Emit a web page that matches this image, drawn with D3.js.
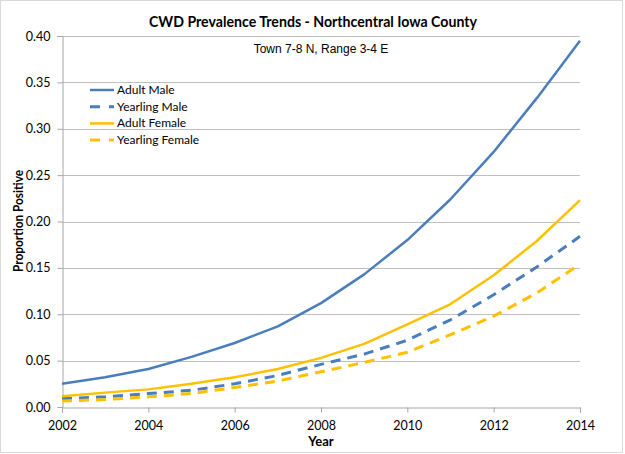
<!DOCTYPE html>
<html>
<head>
<meta charset="utf-8">
<script src="https://cdn.jsdelivr.net/npm/d3@7"></script>
<style>
  body { margin: 0; background: #fff; }
  svg { display: block; }
</style>
</head>
<body>
<svg id="chart"></svg>
<script>
var years = [2002, 2003, 2004, 2005, 2006, 2007, 2008, 2009, 2010, 2011, 2012, 2013, 2014];
var adultMale = [0.025, 0.032, 0.041, 0.054, 0.069, 0.087, 0.112, 0.143, 0.180, 0.224, 0.275, 0.333, 0.395];
var yearlingMale = [0.009, 0.011, 0.0145, 0.018, 0.025, 0.034, 0.046, 0.057, 0.072, 0.094, 0.121, 0.151, 0.184];
var adultFemale = [0.0115, 0.0155, 0.019, 0.025, 0.032, 0.041, 0.053, 0.068, 0.089, 0.111, 0.142, 0.179, 0.223];
var yearlingFemale = [0.0065, 0.008, 0.011, 0.0145, 0.021, 0.028, 0.038, 0.048, 0.059, 0.078, 0.098, 0.123, 0.154];
var seriesNames = ["Adult Male", "Yearling Male", "Adult Female", "Yearling Female"];
var yTicks = [0, 0.05, 0.10, 0.15, 0.20, 0.25, 0.30, 0.35, 0.40];
var xTicks = [2002, 2004, 2006, 2008, 2010, 2012, 2014];

var width = 625, height = 454;
var margin = {left: 62, right: 45, top: 36, bottom: 47};
var blue = "#4A7EBB", gold = "#FFC000";
var font = "Lato, 'Open Sans', sans-serif";

var series = [
  {name: seriesNames[0], values: adultMale, color: blue, dash: null, w: 2.5},
  {name: seriesNames[1], values: yearlingMale, color: blue, dash: "10,7", w: 3},
  {name: seriesNames[2], values: adultFemale, color: gold, dash: null, w: 2.5},
  {name: seriesNames[3], values: yearlingFemale, color: gold, dash: "10,7", w: 3}
];

var svg = d3.select("#chart")
  .attr("width", width)
  .attr("height", height);

// outer frame
svg.append("rect")
  .attr("x", 0.5).attr("y", 0.5)
  .attr("width", width - 3).attr("height", height - 2)
  .attr("fill", "#fff")
  .attr("stroke", "#D9D9D9");

var x = d3.scaleLinear()
  .domain([2002, 2014])
  .range([margin.left, width - margin.right]);

var y = d3.scaleLinear()
  .domain([0, 0.40])
  .range([height - margin.bottom, margin.top]);

// gridlines
svg.append("g")
  .selectAll("line")
  .data(yTicks.slice(1))
  .enter()
  .append("line")
  .attr("x1", x(2002)).attr("x2", x(2014))
  .attr("y1", function (d) { return Math.round(y(d)) + 0.5; })
  .attr("y2", function (d) { return Math.round(y(d)) + 0.5; })
  .attr("stroke", "#BFBFBF")
  .attr("stroke-width", 1);

// y axis
var yAxis = svg.append("g")
  .attr("transform", "translate(" + (x(2002) + 0.5) + ",0)")
  .call(d3.axisLeft(y).tickValues(yTicks).tickFormat(d3.format(".2f")).tickSize(5).tickPadding(7));

// x axis
var xAxis = svg.append("g")
  .attr("transform", "translate(0," + (Math.round(y(0)) + 0.5) + ")")
  .call(d3.axisBottom(x).tickValues(xTicks).tickFormat(d3.format("d")).tickSize(5).tickPadding(9));

[yAxis, xAxis].forEach(function (a) {
  a.selectAll("path, line").attr("stroke", "#A6A6A6");
  a.selectAll("text")
    .attr("fill", "#000")
    .style("font-family", font)
    .style("font-size", "12.5px");
});

// lines
var line = d3.line()
  .x(function (d, i) { return x(years[i]); })
  .y(function (d) { return y(d); });

svg.append("g")
  .selectAll("path")
  .data(series)
  .enter()
  .append("path")
  .attr("d", function (s) { return line(s.values); })
  .attr("fill", "none")
  .attr("stroke", function (s) { return s.color; })
  .attr("stroke-width", function (s) { return s.w; })
  .attr("stroke-dasharray", function (s) { return s.dash; })
  .attr("stroke-linejoin", "round");

// legend
var legend = svg.selectAll(".legend")
  .data(series)
  .enter()
  .append("g")
  .attr("class", "legend")
  .attr("transform", function (d, i) {
    return "translate(90," + (90 + i * 16.7) + ")";
  });

legend.append("line")
  .attr("x1", 0).attr("x2", 24)
  .attr("y1", 0).attr("y2", 0)
  .attr("stroke", function (d) { return d.color; })
  .attr("stroke-width", function (d) { return d.w; })
  .attr("stroke-dasharray", function (d) { return d.dash ? "10,9" : null; });

legend.append("text")
  .attr("x", 27)
  .attr("y", 4)
  .style("font-family", font)
  .style("font-size", "12px")
  .text(function (d) { return d.name; });

// titles
svg.append("text")
  .attr("x", 313).attr("y", 27)
  .attr("text-anchor", "middle")
  .attr("textLength", 328)
  .attr("lengthAdjust", "spacingAndGlyphs")
  .style("font-family", font)
  .style("font-weight", "bold")
  .style("font-size", "16px")
  .text("CWD Prevalence Trends - Northcentral Iowa County");

svg.append("text")
  .attr("x", 321).attr("y", 53)
  .attr("text-anchor", "middle")
  .style("font-family", "'Liberation Sans', Arial, sans-serif")
  .style("font-size", "12px")
  .text("Town 7-8 N, Range 3-4 E");

svg.append("text")
  .attr("x", 321).attr("y", 446)
  .attr("text-anchor", "middle")
  .style("font-family", font)
  .style("font-weight", "bold")
  .style("font-size", "13px")
  .text("Year");

svg.append("text")
  .attr("transform", "translate(23,221) rotate(-90)")
  .attr("text-anchor", "middle")
  .attr("textLength", 102)
  .attr("lengthAdjust", "spacingAndGlyphs")
  .style("font-family", font)
  .style("font-weight", "bold")
  .style("font-size", "13px")
  .text("Proportion Positive");
</script>
</body>
</html>
